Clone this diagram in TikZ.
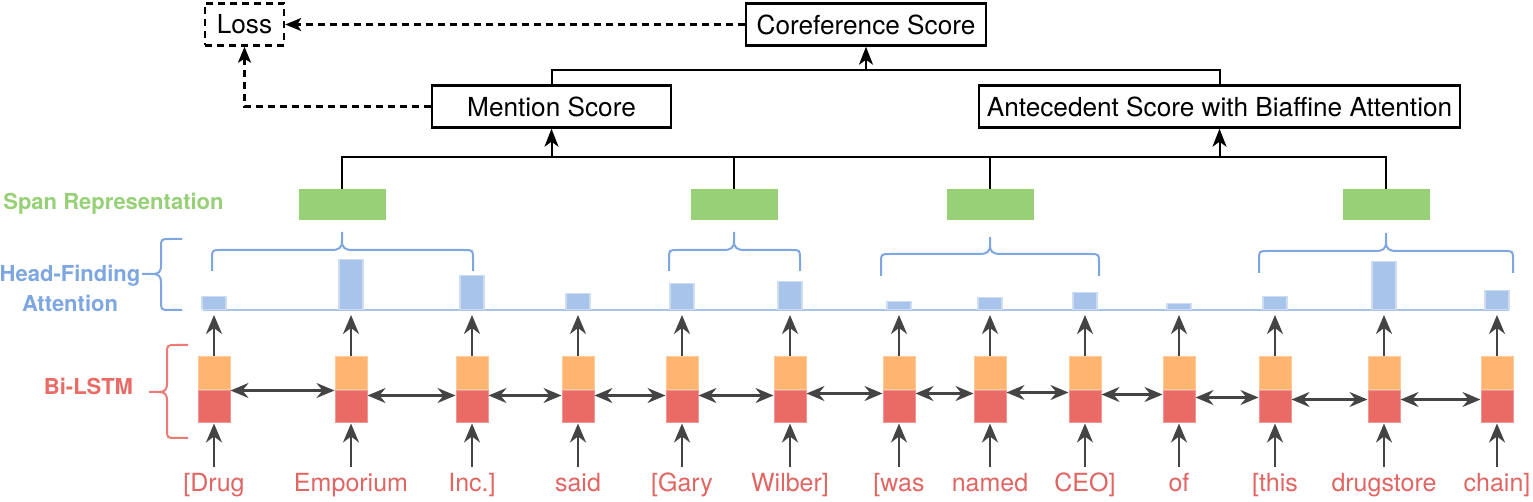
\documentclass[tikz,border=0pt]{standalone}
\usepackage{fontspec}
\setmainfont{TeX Gyre Heros}
\usepackage{xcolor}
\usepackage{tikz}
\usetikzlibrary{
  arrows.meta,
  positioning,
  calc
}
\definecolor{SpanGreen}{HTML}{97D077}
\definecolor{HeadBlue}{HTML}{7EA6E0}
\definecolor{BarBlue}{HTML}{A9C4EB}
\definecolor{LstmOrange}{HTML}{FFB570}
\definecolor{LstmRed}{HTML}{EA6B66}
\definecolor{WordRed}{HTML}{E06563}
\definecolor{ArrowGray}{HTML}{444444}

\tikzset{
  scorebox/.style={draw=black, line width=1.2pt, inner sep=0pt, minimum height=21pt,
    font=\fontsize{13.1}{15}\selectfont},
  scoreline/.style={draw=black, line width=1pt},
  spanline/.style={draw=black, line width=1.3pt},
  scorearrow/.style={scoreline, -{Stealth[length=9pt, width=7pt, inset=2.5pt]}},
  lossarrow/.style={scoreline, line width=1.1pt, dash pattern=on 3.5pt off 2.5pt,
    -{Stealth[length=8pt, width=6.5pt, inset=2pt]}},
  spanbox/.style={fill=SpanGreen, inner sep=0pt, minimum width=43.5pt, minimum height=15.5pt},
  attbar/.style={anchor=south, fill=BarBlue, draw=BarBlue!60!white, line width=0.6pt,
    inner sep=0pt, minimum width=12pt},
  attline/.style={draw=BarBlue, line width=1pt},
  attbrace/.style={draw=HeadBlue, line width=1pt},
  lstmtop/.style={fill=LstmOrange, draw=LstmOrange!70!white, line width=0.5pt,
    inner sep=0pt, minimum width=16pt, minimum height=16.5pt},
  lstmbot/.style={fill=LstmRed, draw=LstmRed!70!white, line width=0.5pt,
    inner sep=0pt, minimum width=16pt, minimum height=16pt},
  lstmbrace/.style={draw=LstmRed!90!white, line width=1pt},
  lstmarrow/.style={draw=ArrowGray, line width=1.2pt,
    -{Stealth[length=9.5pt, width=8pt, inset=3pt]}},
  lstmlink/.style={draw=ArrowGray, line width=1.2pt,
    {Stealth[length=9pt, width=7.5pt, inset=3pt]}-{Stealth[length=9pt, width=7.5pt, inset=3pt]}},
  word/.style={text=WordRed, font=\fontsize{12.5}{14}\selectfont, anchor=base,
    inner sep=0pt, inner ysep=3pt, text height=9pt, text depth=2.5pt},
  sidelabel/.style={font=\fontsize{11}{15}\selectfont\bfseries, inner sep=0pt}
}

% brace opening downwards: left x, tip x, right x, end y, mid y, tip y
\newcommand{\spanbrace}[6]{%
  \draw[attbrace] (#1,#4) -- (#1,#5+9) .. controls (#1,#5) .. (#1+9,#5)
    -- (#2-11,#5) .. controls (#2-3,#5) and (#2,#5-2) .. (#2,#5-9) -- (#2,#6)
    (#2,#5-9) .. controls (#2,#5-2) and (#2+3,#5) .. (#2+11,#5)
    -- (#3-9,#5) .. controls (#3,#5) .. (#3,#5+9) -- (#3,#4);}

% brace opening to the right: style, end x, spine x, tip x, top y, tip y, bottom y
\newcommand{\sidebrace}[7]{%
  \draw[#1] (#2,#5) -- (#3+9,#5) .. controls (#3,#5) .. (#3,#5+9)
    -- (#3,#6-9) .. controls (#3,#6-2) and (#3-2,#6) .. (#3-9,#6) -- (#4,#6)
    (#3-9,#6) .. controls (#3-2,#6) and (#3,#6+2) .. (#3,#6+9)
    -- (#3,#7-9) .. controls (#3,#7) .. (#3+9,#7) -- (#2,#7);}

\begin{document}
\begin{tikzpicture}[x=0.5pt, y=-0.5pt]
  \useasboundingbox (0,0) rectangle (1533,502);

  % scores
  \node[scorebox, minimum width=120pt] (coref) at (866,24.5) {Coreference Score};
  \node[scorebox, dash pattern=on 3.5pt off 2.5pt, minimum width=39.5pt] (loss) at (244.5,24.5) {Loss};
  \node[scorebox, minimum width=119.5pt] (mention) at (551.5,106.5) {Mention Score};
  \node[scorebox, minimum width=240.5pt] (antecedent) at (1219.5,106.5) {Antecedent Score with Biaffine Attention};

  \coordinate (topjoin) at (866,70);
  \draw[scoreline] (mention.north) |- (topjoin) -| (antecedent.north);
  \draw[scorearrow] (topjoin) -- (coref.south);
  \draw[lossarrow] (coref.west) -- (loss.east);
  \draw[lossarrow] (mention.west) -| (loss.south);

  % span representations
  \foreach \x [count=\i] in {342,734,990,1386}
    \node[spanbox] (span\i) at (\x,204.5) {};

  \coordinate (mjoin) at (551.5,157);
  \coordinate (ajoin) at (1219.5,157);
  \draw[spanline] (span1.north) |- (mjoin) -- (ajoin) -| (span4.north);
  \draw[spanline] (span2.north) -- (span2.north |- mjoin);
  \draw[spanline] (span3.north) -- (span3.north |- mjoin);
  \draw[scorearrow] (mjoin) -- (mention.south);
  \draw[scorearrow] (ajoin) -- (antecedent.south);

  % head-finding attention
  \spanbrace{212}{342}{473}{271}{250}{232}
  \spanbrace{669}{734}{800}{271}{250}{232}
  \spanbrace{881}{990}{1099}{276}{254}{237}
  \spanbrace{1259}{1386}{1513}{273}{251}{233}
  \draw[attline] (203,310) -- (1509,310);

  % words, bi-lstm and attention bars
  \foreach \x/\w/\h [count=\i] in {214/{[Drug}/13, 351/Emporium/50, 472/{Inc.]}/34,
      578/said/16, 682/{[Gary}/26, 790/{Wilber]}/28, 899/{[was}/8, 990/named/12,
      1085/{CEO]}/17, 1179/of/6, 1275/{[this}/13, 1384/drugstore/48, 1497/{chain]}/19} {
    \node[attbar, minimum height=\h*0.5pt] (bar\i) at (\x,310) {};
    \coordinate (att\i) at (\x,315);
    \node[lstmtop] (lstmtop\i) at (\x,373.5) {};
    \node[lstmbot, below=0pt of lstmtop\i] (lstmbot\i) {};
    \node[word] (word\i) at (\x,491) {\w};
    \draw[lstmarrow] (word\i) -- (lstmbot\i);
    \draw[lstmarrow] (lstmtop\i) -- (att\i);
  }

  \foreach \i/\j/\dy in {1/2/0, 2/3/5, 3/4/5, 4/5/5, 5/6/5, 6/7/3, 7/8/3,
      8/9/2, 9/10/4, 10/11/7, 11/12/9, 12/13/9}
    \draw[lstmlink] ($(lstmbot\i.north east)+(0,\dy)$) -- ($(lstmbot\j.north west)+(0,\dy)$);

  % labels
  \node[sidelabel, text=SpanGreen, anchor=base] (spanlabel) at (113.5,210) {Span Representation};
  \node[sidelabel, text=HeadBlue, align=center] (headlabel) at (70,288) {Head-Finding\\Attention};
  \node[sidelabel, text=LstmRed, anchor=base] (lstmlabel) at (88.5,394) {Bi-LSTM};
  \sidebrace{attbrace}{182}{161}{142}{239}{274}{310}
  \sidebrace{lstmbrace}{188}{167}{149}{345}{392}{438}
\end{tikzpicture}
\end{document}
